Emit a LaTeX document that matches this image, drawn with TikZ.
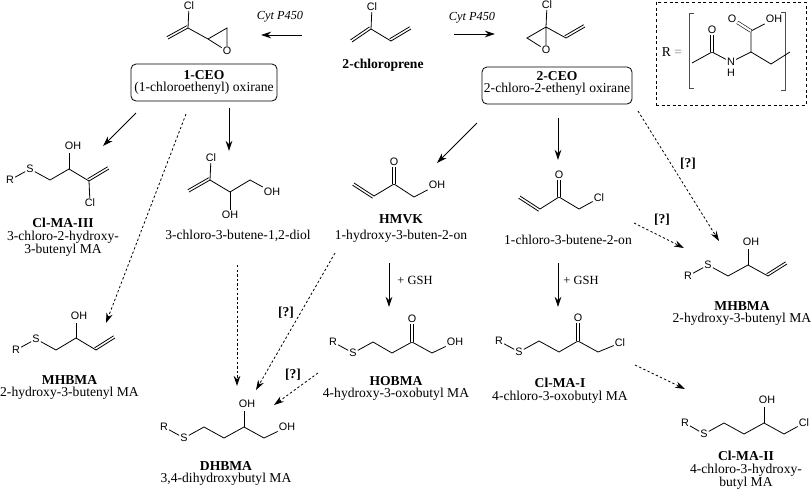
\documentclass[tikz,border=0pt]{standalone}
\usepackage{fontspec}
\setmainfont{Liberation Serif}
\newfontfamily\atomfont{Liberation Sans}
\usetikzlibrary{arrows.meta,calc}

\tikzset{
  bond/.style={line width=0.8pt},
  atom/.style={font=\atomfont\fontsize{10.8}{11}\selectfont, inner sep=1pt},
  cname/.style={font=\fontsize{13.6}{12.8}\selectfont, align=center, inner sep=0pt},
  ctitle/.style={font=\bfseries\fontsize{13.6}{12.8}\selectfont, inner sep=0pt},
  note/.style={font=\fontsize{12.5}{12}\selectfont, inner sep=0pt},
  enzyme/.style={font=\itshape\fontsize{12.3}{12}\selectfont, inner sep=0pt},
  step arrow/.style={-{Stealth[length=10pt,width=6.5pt]}, line width=0.8pt},
  maybe arrow/.style={-{Stealth[length=10pt,width=6.5pt]}, line width=0.8pt, dash pattern=on 2.4pt off 2.2pt},
  boxed/.style={draw, rounded corners=5pt, line width=0.8pt, minimum width=146pt, minimum height=37pt, inner sep=0pt}
}
% c=c bond, second line set off on one side
\newcommand{\dbond}[3]{%
  \draw[bond] (#1) -- (#2);
  \draw[bond] ($(#1)!#3pt!90:(#2)$) -- ($(#2)!#3pt!-90:(#1)$);}
\newcommand{\obond}[2]{\draw[bond,double,double distance=2.2pt,line width=0.6pt] (#1) -- (#2);}

\begin{document}
\begin{tikzpicture}[x=1pt,y=-1pt]
  \useasboundingbox (0,0) rectangle (812,491);

  % top row
  \node[atom] (cp-cl) at (372,7) {Cl};
  \coordinate (cp-1) at (352,42);
  \coordinate (cp-2) at (371,29);
  \coordinate (cp-3) at (391,41);
  \coordinate (cp-4) at (411,29);
  \draw[bond] (cp-cl) -- (cp-2) -- (cp-3);
  \dbond{cp-2}{cp-1}{-2.6}
  \dbond{cp-3}{cp-4}{2.6}
  \node[ctitle] (cp-name) at (383,65) {2-chloroprene};

  \node[atom] (c1-cl) at (189,6) {Cl};
  \node[atom] (c1-o) at (227,51) {O};
  \coordinate (c1-1) at (168,39);
  \coordinate (c1-2) at (188,28);
  \coordinate (c1-3) at (208,39);
  \coordinate (c1-4) at (227,28);
  \draw[bond] (c1-cl) -- (c1-2) -- (c1-3) -- (c1-4) -- (c1-o) -- (c1-3);
  \dbond{c1-2}{c1-1}{-2.6}
  \node[boxed] (ceo-1) at (204,82.5) {};
  \node[cname] (ceo-1-n) at (204,82.5) {\textbf{1-CEO}\\(1-chloroethenyl) oxirane};

  \node[atom] (c2-cl) at (547,5) {Cl};
  \node[atom] (c2-o) at (546,50) {O};
  \coordinate (c2-l) at (527,38);
  \coordinate (c2-c) at (546,27);
  \coordinate (c2-r) at (566,38);
  \coordinate (c2-e) at (585,27);
  \draw[bond] (c2-cl) -- (c2-c) -- (c2-l) -- (c2-o) -- (c2-c) -- (c2-r);
  \dbond{c2-r}{c2-e}{2.6}
  \node[boxed, minimum width=150pt] (ceo-2) at (557,85.5) {};
  \node[cname] (ceo-2-n) at (557,83.5) {\textbf{2-CEO}\\2-chloro-2-ethenyl oxirane};

  \node[enzyme] (p450-l) at (280,17) {Cyt P450};
  \node[enzyme] (p450-r) at (472,18) {Cyt P450};
  \coordinate (a1s) at (302,35);
  \coordinate (a1e) at (261,35);
  \coordinate (a2s) at (454,34);
  \coordinate (a2e) at (495,34);
  \draw[step arrow] (a1s) -- (a1e);
  \draw[step arrow] (a2s) -- (a2e);

  % R group
  \node[draw, line width=0.9pt, dash pattern=on 3pt off 2.6pt, minimum width=150pt, minimum height=103pt, inner sep=0pt] (rbox) at (731,53.5) {};
  \node[cname] (r-eq) at (672,52) {R \textcolor{gray}{=}};
  \draw[line width=1pt, black!70] (694,13) -- (689,13) -- (689,88) -- (694,88);
  \draw[line width=1pt, black!70] (781,12) -- (785,12) -- (785,90) -- (781,90);
  \node[atom] (r-o1) at (712,30) {O};
  \node[atom] (r-n) at (731,62) {N};
  \node[atom] (r-h) at (731,73) {H};
  \node[atom] (r-o2) at (732,19) {O};
  \node[atom] (r-oh) at (774,19) {OH};
  \coordinate (r-0) at (692,63);
  \coordinate (r-1) at (712,52);
  \coordinate (r-2) at (751,52);
  \coordinate (r-3) at (751,31);
  \coordinate (r-4) at (771,64);
  \coordinate (r-5) at (790,52);
  \draw[bond] (r-0) -- (r-1) -- (r-n) -- (r-2) -- (r-3) -- (r-oh);
  \draw[bond] (r-2) -- (r-4) -- (r-5);
  \obond{r-1}{r-o1}
  \obond{r-3}{r-o2}

  % cl-ma-iii
  \node[atom] (m3-r) at (10,180) {R};
  \node[atom] (m3-s) at (30,169) {S};
  \node[atom] (m3-oh) at (73,146) {OH};
  \node[atom] (m3-cl) at (90,203) {Cl};
  \coordinate (m3-1) at (50,180);
  \coordinate (m3-2) at (69,169);
  \coordinate (m3-3) at (89,181);
  \coordinate (m3-4) at (109,169);
  \coordinate (m3-5) at (69,153);
  \draw[bond] (m3-r) -- (m3-s) -- (m3-1) -- (m3-2) -- (m3-3) -- (m3-cl);
  \draw[bond] (m3-2) -- (m3-5);
  \dbond{m3-3}{m3-4}{2.6}
  \node[cname] (m3-n) at (63,237) {\textbf{Cl-MA-III}\\3-chloro-2-hydroxy-\\3-butenyl MA};

  % diol
  \node[atom] (di-cl) at (211,158) {Cl};
  \node[atom] (di-oh) at (230,215) {OH};
  \node[atom] (di-oh2) at (272,192) {OH};
  \coordinate (di-1) at (189,192);
  \coordinate (di-2) at (210,180);
  \coordinate (di-3) at (230,192);
  \coordinate (di-4) at (250,180);
  \draw[bond] (di-cl) -- (di-2) -- (di-3) -- (di-4) -- (di-oh2);
  \draw[bond] (di-3) -- (di-oh);
  \dbond{di-2}{di-1}{-2.6}
  \node[cname] (di-n) at (238,236) {3-chloro-3-butene-1,2-diol};

  % hmvk
  \node[atom] (hm-o) at (394,162) {O};
  \node[atom] (hm-oh) at (437,185) {OH};
  \coordinate (hm-1) at (354,183);
  \coordinate (hm-2) at (374,196);
  \coordinate (hm-3) at (394,184);
  \coordinate (hm-4) at (414,197);
  \draw[bond] (hm-2) -- (hm-3) -- (hm-4) -- (hm-oh);
  \dbond{hm-2}{hm-1}{2.6}
  \obond{hm-3}{hm-o}
  \node[cname] (hm-n) at (401,228.5) {\textbf{HMVK}\\[4pt]1-hydroxy-3-buten-2-on};

  % 1-chloro ketone
  \node[atom] (ck-o) at (559,175) {O};
  \node[atom] (ck-cl) at (599,198) {Cl};
  \coordinate (ck-1) at (520,196);
  \coordinate (ck-2) at (540,209);
  \coordinate (ck-3) at (559,197);
  \coordinate (ck-4) at (579,209);
  \draw[bond] (ck-2) -- (ck-3) -- (ck-4) -- (ck-cl);
  \dbond{ck-2}{ck-1}{2.6}
  \obond{ck-3}{ck-o}
  \node[cname] (ck-n) at (568,240) {1-chloro-3-butene-2-on};

  % mhbma, right
  \node[atom] (mr-r) at (688,276) {R};
  \node[atom] (mr-s) at (708,265) {S};
  \node[atom] (mr-oh) at (751,242) {OH};
  \coordinate (mr-1) at (728,276);
  \coordinate (mr-2) at (748,265);
  \coordinate (mr-3) at (768,276);
  \coordinate (mr-4) at (787,264);
  \coordinate (mr-5) at (748,249);
  \draw[bond] (mr-r) -- (mr-s) -- (mr-1) -- (mr-2) -- (mr-3);
  \draw[bond] (mr-2) -- (mr-5);
  \dbond{mr-3}{mr-4}{2.6}
  \node[cname] (mr-n) at (742,313.5) {\textbf{MHBMA}\\2-hydroxy-3-butenyl MA};

  % mhbma, left
  \node[atom] (ml-r) at (16,350) {R};
  \node[atom] (ml-s) at (36,339) {S};
  \node[atom] (ml-oh) at (79,316) {OH};
  \coordinate (ml-1) at (56,350);
  \coordinate (ml-2) at (76,338);
  \coordinate (ml-3) at (96,350);
  \coordinate (ml-4) at (115,338);
  \coordinate (ml-5) at (76,323);
  \draw[bond] (ml-r) -- (ml-s) -- (ml-1) -- (ml-2) -- (ml-3);
  \draw[bond] (ml-2) -- (ml-5);
  \dbond{ml-3}{ml-4}{2.6}
  \node[cname] (ml-n) at (69.5,387.5) {\textbf{MHBMA}\\2-hydroxy-3-butenyl MA};

  % dhbma
  \node[atom] (dh-r) at (164,427) {R};
  \node[atom] (dh-s) at (184,438) {S};
  \node[atom] (dh-oh) at (247,404) {OH};
  \node[atom] (dh-oh2) at (287,427) {OH};
  \coordinate (dh-1) at (204,427);
  \coordinate (dh-2) at (224,438);
  \coordinate (dh-3) at (244,427);
  \coordinate (dh-4) at (264,438);
  \coordinate (dh-5) at (244,411);
  \draw[bond] (dh-r) -- (dh-s) -- (dh-1) -- (dh-2) -- (dh-3) -- (dh-4) -- (dh-oh2);
  \draw[bond] (dh-3) -- (dh-5);
  \node[cname] (dh-n) at (226,473.5) {\textbf{DHBMA}\\3,4-dihydroxybutyl MA};

  % hobma
  \node[atom] (ho-r) at (333,342) {R};
  \node[atom] (ho-s) at (353,353) {S};
  \node[atom] (ho-o) at (412,319) {O};
  \node[atom] (ho-oh) at (455,342) {OH};
  \coordinate (ho-1) at (373,342);
  \coordinate (ho-2) at (392,353);
  \coordinate (ho-3) at (412,342);
  \coordinate (ho-4) at (432,353);
  \draw[bond] (ho-r) -- (ho-s) -- (ho-1) -- (ho-2) -- (ho-3) -- (ho-4) -- (ho-oh);
  \obond{ho-3}{ho-o}
  \node[cname] (ho-n) at (396,388.5) {\textbf{HOBMA}\\4-hydroxy-3-oxobutyl MA};

  % cl-ma-i
  \node[atom] (m1-r) at (499,341) {R};
  \node[atom] (m1-s) at (519,352) {S};
  \node[atom] (m1-o) at (578,318) {O};
  \node[atom] (m1-cl) at (620,343) {Cl};
  \coordinate (m1-1) at (539,341);
  \coordinate (m1-2) at (559,352);
  \coordinate (m1-3) at (578,341);
  \coordinate (m1-4) at (598,352);
  \draw[bond] (m1-r) -- (m1-s) -- (m1-1) -- (m1-2) -- (m1-3) -- (m1-4) -- (m1-cl);
  \obond{m1-3}{m1-o}
  \node[cname] (m1-n) at (560,390.5) {\textbf{Cl-MA-I}\\4-chloro-3-oxobutyl MA};

  % cl-ma-ii
  \node[atom] (m2-r) at (685,423) {R};
  \node[atom] (m2-s) at (704,434) {S};
  \node[atom] (m2-oh) at (767,400) {OH};
  \node[atom] (m2-cl) at (804,423) {Cl};
  \coordinate (m2-1) at (724,423);
  \coordinate (m2-2) at (744,434);
  \coordinate (m2-3) at (764,423);
  \coordinate (m2-4) at (784,434);
  \coordinate (m2-5) at (764,407);
  \draw[bond] (m2-r) -- (m2-s) -- (m2-1) -- (m2-2) -- (m2-3) -- (m2-4) -- (m2-cl);
  \draw[bond] (m2-3) -- (m2-5);
  \node[cname] (m2-n) at (746,470.5) {\textbf{Cl-MA-II}\\4-chloro-3-hydroxy-\\butyl MA};

  % side notes
  \node[ctitle] (q1) at (688,164) {[?]};
  \node[ctitle] (q2) at (662,220) {[?]};
  \node[ctitle] (q3) at (286,313) {[?]};
  \node[ctitle] (q4) at (293,375) {[?]};
  \node[note] (gsh1) at (415,280) {+ GSH};
  \node[note] (gsh2) at (581,280) {+ GSH};

  % free ends of the arrows
  \coordinate (s1) at (136,113);
  \coordinate (e1) at (103,146);
  \coordinate (s2) at (186,114);
  \coordinate (e2) at (106,323);
  \coordinate (s3) at (229,108);
  \coordinate (e3) at (229,151);
  \coordinate (s4) at (237,265);
  \coordinate (e4) at (237,386);
  \coordinate (s5) at (477,123);
  \coordinate (e5) at (437,163);
  \coordinate (s6) at (558,118);
  \coordinate (e6) at (558,160);
  \coordinate (s7) at (638,111);
  \coordinate (e7) at (719,241);
  \coordinate (s8) at (634,223);
  \coordinate (e8) at (684,248);
  \coordinate (s9) at (335,253);
  \coordinate (e9) at (256,390);
  \coordinate (s10) at (318,373);
  \coordinate (e10) at (274,405);
  \coordinate (s11) at (389,263);
  \coordinate (e11) at (389,307);
  \coordinate (s12) at (558,263);
  \coordinate (e12) at (558,307);
  \coordinate (s13) at (635,365);
  \coordinate (e13) at (685,389);

  \foreach \n in {1,3,5,6,11,12} \draw[step arrow] (s\n) -- (e\n);
  \foreach \n in {2,4,7,8,9,10,13} \draw[maybe arrow] (s\n) -- (e\n);
\end{tikzpicture}
\end{document}
